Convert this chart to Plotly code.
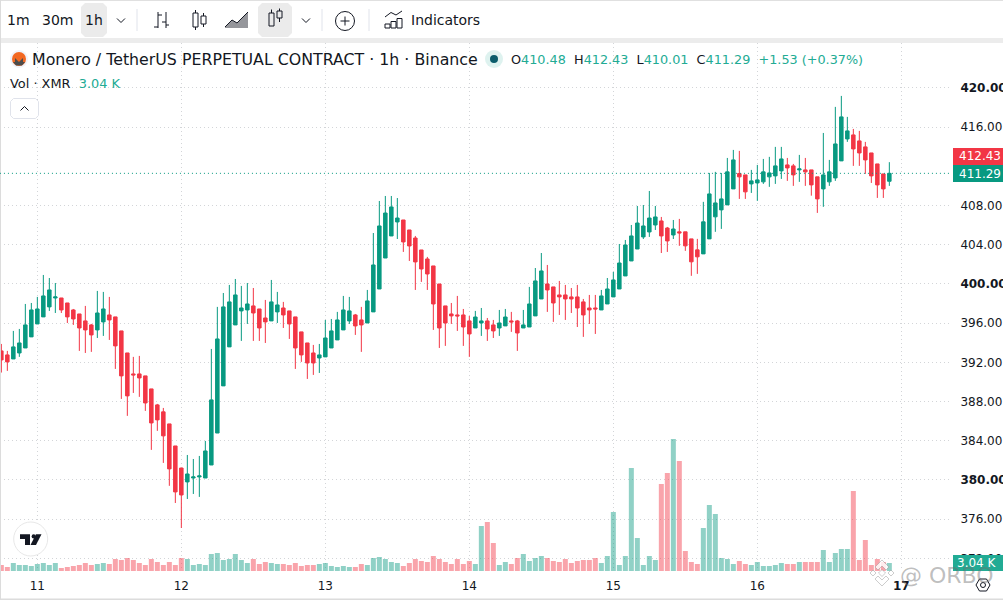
import pandas as pd
import plotly.graph_objects as go

# hourly candles
times = pd.date_range("2025-11-10 18:00", periods=149, freq="h")

opens = [393.17, 392.76, 392.35, 392.96, 393.47, 394.60, 395.92, 396.64, 397.66, 398.57,
         398.57, 398.06, 397.35, 396.94, 396.23, 395.82, 395.31, 396.13, 396.84, 396.64,
         395.21, 392.96, 390.82, 390.82, 390.62, 389.29, 387.66, 386.95, 385.72, 383.47,
         381.22, 379.80, 380.20, 380.31, 380.20, 381.53, 384.79, 389.60, 393.58, 395.82,
         397.25, 397.35, 397.76, 397.45, 396.53, 396.23, 397.15, 397.55, 397.25, 396.64,
         395.11, 393.98, 392.96, 392.45, 392.56, 393.47, 394.29, 395.31, 396.23, 396.84,
         396.33, 396.02, 397.15, 399.49, 402.65, 404.90, 406.33, 406.53, 405.51, 404.69,
         403.47, 402.55, 401.84, 400.00, 397.76, 396.94, 396.84, 396.84, 396.23, 395.51,
         396.02, 396.23, 395.82, 395.51, 395.72, 396.23, 396.23, 395.51, 395.61, 396.74,
         398.47, 400.00, 399.70, 398.88, 398.88, 398.68, 398.68, 398.17, 397.55, 397.55,
         397.35, 397.96, 398.68, 399.49, 400.82, 402.35, 403.57, 404.80, 405.31, 406.02,
         406.43, 405.71, 405.00, 405.32, 405.32, 404.60, 403.48, 403.07, 404.60, 406.85,
         407.56, 408.07, 409.70, 411.27, 411.13, 410.21, 410.31, 410.42, 410.93, 411.03,
         411.54, 412.15, 412.05, 411.64, 411.64, 411.64, 410.93, 409.70, 410.42, 410.82,
         412.56, 414.80, 415.21, 414.60, 413.99, 413.37, 412.25, 411.23, 410.48]
highs = [393.88, 393.17, 395.21, 395.41, 397.96, 398.06, 398.68, 400.92, 400.61, 400.10,
         398.57, 398.06, 397.45, 396.94, 397.76, 395.92, 399.29, 399.19, 398.68, 396.64,
         395.21, 392.96, 392.56, 392.66, 390.62, 389.29, 387.76, 387.35, 385.72, 383.47,
         381.22, 382.55, 382.14, 382.45, 383.98, 393.37, 397.66, 399.08, 399.90, 400.51,
         399.80, 400.10, 399.59, 397.45, 398.37, 400.41, 399.19, 398.17, 397.25, 396.64,
         395.11, 393.98, 393.78, 393.88, 396.33, 396.43, 397.15, 398.78, 398.68, 396.94,
         397.66, 399.39, 405.20, 408.47, 408.98, 408.98, 408.77, 406.53, 405.51, 404.90,
         403.47, 402.76, 401.84, 400.00, 397.76, 398.06, 398.78, 397.45, 396.74, 397.25,
         397.55, 396.53, 396.33, 397.35, 397.45, 397.15, 396.33, 397.35, 399.70, 401.63,
         403.16, 401.94, 399.70, 400.31, 399.90, 399.59, 399.90, 398.47, 398.88, 398.88,
         399.39, 400.61, 401.23, 404.08, 404.49, 406.02, 407.96, 408.06, 409.49, 407.96,
         406.84, 405.82, 406.53, 406.64, 405.32, 404.60, 404.60, 408.38, 411.33, 411.44,
         411.33, 412.86, 413.68, 413.58, 411.13, 411.64, 412.15, 412.76, 412.97, 413.99,
         413.99, 412.86, 412.25, 413.17, 412.86, 411.64, 410.93, 415.41, 412.66, 418.07,
         419.19, 417.05, 415.82, 415.62, 414.50, 413.37, 412.25, 411.23, 412.43]
lows = [390.96, 391.13, 392.35, 392.56, 393.47, 394.60, 395.92, 396.64, 397.25, 397.04,
        397.04, 396.02, 395.82, 393.17, 392.96, 393.07, 394.49, 394.70, 394.29, 391.33,
        388.27, 386.54, 388.88, 388.48, 387.05, 383.07, 385.01, 381.74, 379.40, 377.65,
        375.10, 378.06, 378.57, 378.27, 380.20, 381.53, 384.79, 389.60, 393.58, 395.82,
        394.19, 395.92, 394.19, 394.19, 393.98, 396.23, 396.02, 395.51, 394.39, 391.33,
        392.05, 390.31, 390.72, 390.92, 392.56, 393.47, 394.29, 395.31, 395.92, 394.80,
        393.07, 396.02, 397.15, 399.49, 402.65, 404.90, 404.59, 403.27, 402.35, 399.39,
        400.21, 399.39, 395.31, 393.47, 393.68, 395.92, 395.21, 393.68, 392.56, 395.51,
        394.70, 394.19, 394.49, 394.70, 395.72, 395.11, 393.17, 395.51, 395.61, 396.74,
        398.47, 397.15, 396.13, 396.84, 396.33, 397.04, 395.61, 394.60, 395.92, 394.90,
        397.35, 397.96, 398.68, 399.49, 400.82, 402.35, 403.57, 404.59, 404.80, 405.51,
        403.16, 403.27, 404.59, 403.89, 403.38, 400.83, 401.03, 403.07, 404.60, 405.32,
        405.62, 408.07, 409.70, 408.68, 408.68, 409.29, 408.48, 410.21, 409.91, 410.21,
        410.72, 410.52, 410.01, 410.42, 410.01, 409.01, 407.25, 407.87, 410.01, 410.52,
        412.56, 414.50, 412.05, 412.05, 411.23, 410.31, 408.78, 408.78, 410.01]
closes = [392.25, 392.05, 393.58, 393.98, 395.82, 397.35, 397.45, 398.78, 399.39, 398.68,
          397.35, 396.64, 396.43, 395.51, 395.31, 394.80, 397.04, 397.45, 396.33, 393.68,
          390.62, 388.58, 390.72, 390.41, 387.86, 385.82, 386.13, 384.50, 381.13, 378.78,
          378.47, 380.61, 380.31, 380.41, 382.96, 388.17, 394.39, 397.66, 398.17, 398.88,
          397.55, 397.96, 397.04, 395.51, 396.13, 398.17, 397.86, 396.84, 395.92, 393.47,
          392.76, 391.94, 391.94, 392.76, 394.49, 395.21, 396.33, 397.35, 397.25, 395.72,
          395.82, 398.27, 401.94, 405.92, 407.24, 407.86, 406.73, 404.29, 403.88, 402.25,
          401.53, 401.02, 397.96, 395.51, 396.02, 396.74, 396.74, 395.61, 394.90, 396.63,
          396.23, 395.41, 395.21, 396.02, 396.63, 396.13, 395.00, 395.82, 397.96, 400.31,
          401.33, 399.39, 398.06, 398.68, 398.47, 398.47, 397.55, 396.84, 397.35, 397.45,
          398.78, 399.49, 400.41, 402.14, 403.98, 404.90, 406.22, 405.92, 406.73, 406.84,
          404.90, 404.39, 405.61, 405.21, 403.89, 402.26, 402.77, 406.34, 409.19, 408.27,
          408.68, 411.44, 412.66, 410.93, 409.40, 410.52, 410.62, 411.44, 411.33, 412.05,
          412.76, 411.84, 411.13, 411.74, 411.44, 410.11, 408.68, 411.13, 411.44, 414.29,
          417.05, 415.62, 413.78, 413.37, 412.66, 411.03, 410.11, 409.70, 411.29]
# volume in thousands of XMR
volumes = [2.28, 1.52, 3.04, 2.28, 2.28, 1.90, 2.66, 3.04, 2.28, 3.04,
           1.14, 1.52, 1.90, 2.28, 3.04, 2.28, 2.66, 3.04, 2.66, 4.56,
           4.18, 4.94, 4.18, 3.04, 2.28, 4.56, 3.42, 2.28, 3.42, 2.28,
           4.94, 4.56, 2.28, 2.66, 2.28, 6.46, 6.84, 4.18, 4.56, 6.46,
           4.18, 3.04, 4.56, 2.66, 3.42, 3.04, 2.66, 2.66, 2.28, 3.04,
           1.90, 2.28, 2.28, 2.66, 3.04, 1.90, 1.52, 1.90, 1.52, 1.52,
           2.66, 2.28, 4.94, 5.32, 4.56, 3.42, 3.04, 1.90, 3.04, 4.56,
           3.80, 3.42, 5.70, 4.56, 3.42, 2.66, 4.56, 2.66, 3.80, 2.66,
           17.10, 18.62, 10.64, 2.28, 3.42, 2.66, 4.94, 6.46, 3.80, 4.94,
           5.70, 4.94, 3.80, 3.42, 4.56, 3.04, 3.80, 4.18, 4.18, 4.94,
           3.04, 5.70, 22.42, 2.28, 5.70, 39.14, 12.54, 2.28, 5.70, 4.18,
           33.06, 37.24, 50.16, 41.80, 7.60, 3.42, 2.66, 16.34, 25.08, 21.66,
           4.94, 4.56, 2.66, 3.80, 2.66, 2.28, 3.42, 1.90, 1.90, 2.28,
           3.04, 2.66, 2.66, 3.42, 3.42, 3.42, 3.42, 7.98, 3.42, 6.84,
           8.36, 8.36, 30.40, 4.18, 11.78, 2.28, 4.56, 3.42, 3.04]

price_ticks = [372, 376, 380, 384, 388, 392, 396, 400, 404, 408, 416, 420]
bold_ticks = [380, 400, 420]
day_ticks = ["2025-11-11", "2025-11-12", "2025-11-13", "2025-11-14", "2025-11-15", "2025-11-16", "2025-11-17"]
day_labels = ["11", "12", "13", "14", "15", "16", "<b>17</b>"]

GREEN = "#089981"
RED = "#f23645"
TEAL = "#22ab94"
INK = "#131722"
GRID = "#d3d5d8"
W, H = 1003, 600


def px(x, y):
    return x / W, 1 - y / H


def line(x0, y0, x1, y1, color=INK, width=1):
    a, b = px(x0, y0)
    c, d = px(x1, y1)
    return dict(type="line", xref="paper", yref="paper", x0=a, y0=b, x1=c, y1=d,
                line=dict(color=color, width=width))


def rect(x0, y0, x1, y1, fill, border=None, width=1):
    a, b = px(x0, y0)
    c, d = px(x1, y1)
    return dict(type="rect", xref="paper", yref="paper", x0=a, y0=b, x1=c, y1=d, fillcolor=fill,
                line=dict(color=border or fill, width=width if border else 0))


def circle(cx, cy, r, fill="rgba(0,0,0,0)", border=None, width=1):
    a, b = px(cx - r, cy - r)
    c, d = px(cx + r, cy + r)
    return dict(type="circle", xref="paper", yref="paper", x0=a, y0=b, x1=c, y1=d, fillcolor=fill,
                line=dict(color=border or fill, width=width if border else 0))


def poly(points, fill="rgba(0,0,0,0)", border=None, width=1, close=True):
    parts = []
    for i, (x, y) in enumerate(points):
        a, b = px(x, y)
        parts.append(f"{'M' if i == 0 else 'L'}{a:.5f},{b:.5f}")
    return dict(type="path", xref="paper", yref="paper", path=" ".join(parts) + (" Z" if close else ""),
                fillcolor=fill, line=dict(color=border or "rgba(0,0,0,0)", width=width if border else 0))


def rounded(x0, y0, x1, y1, r, fill, border=None):
    pts = [(x0 + r, y0), (x1 - r, y0), (x1, y0 + r), (x1, y1 - r), (x1 - r, y1), (x0 + r, y1), (x0, y1 - r), (x0, y0 + r)]
    return poly(pts, fill, border)


def label(x, y, text, size=14, color=INK, anchor="left", family="DejaVu Sans"):
    a, b = px(x, y)
    return dict(xref="paper", yref="paper", x=a, y=b, text=text, showarrow=False, xanchor=anchor,
                yanchor="middle", font=dict(family=family, size=size, color=color), borderpad=0, borderwidth=0)


def candle_icon(x0, x1, y0, y1, wick_top, wick_bottom):
    mid = (x0 + x1) / 2
    return [rect(x0, y0, x1, y1, "rgba(0,0,0,0)", INK), line(mid, wick_top, mid, y0), line(mid, y1, mid, wick_bottom)]


def chevron(cx, cy, up=False):
    d = -2 if up else 2
    return poly([(cx - 4, cy - d), (cx, cy + d), (cx + 4, cy - d)], border=INK, close=False)


vol_colors = ["rgba(8,153,129,0.45)" if c >= o else "rgba(242,54,69,0.45)" for o, c in zip(opens, closes)]

fig = go.Figure()
fig.add_trace(go.Bar(x=times, y=volumes, yaxis="y", width=3000000, marker=dict(color=vol_colors, line_width=0),
                     hoverinfo="skip"))
fig.add_trace(go.Candlestick(x=times, open=opens, high=highs, low=lows, close=closes, yaxis="y2", whiskerwidth=0,
                             increasing=dict(line=dict(color=GREEN, width=1), fillcolor=GREEN),
                             decreasing=dict(line=dict(color=RED, width=1), fillcolor=RED),
                             hoverinfo="skip"))

shapes = [
    # frame and toolbar
    rect(0, 38, W, 43, "#ececec"),
    rect(0, 0, W, 1, "#e0e0e0"),
    rect(0, 0, 1, H, "#dcdcdc"),
    rect(0, 598.5, W, H, "#dcdcdc"),
    rounded(81, 3, 107, 37, 4, "#ebebeb"),
    rounded(258, 3, 292, 37, 4, "#ebebeb"),
    line(137, 9, 137, 31, "#e0e3eb"),
    line(322, 9, 322, 31, "#e0e3eb"),
    line(369, 9, 369, 31, "#e0e3eb"),
    chevron(121, 20.5),
    chevron(306, 20.5),
    # bars icon
    line(158, 12, 158, 28), line(154, 27, 158, 27), line(158, 15, 162, 15),
    line(166, 12, 166, 28), line(162, 22, 166, 22), line(166, 25, 169, 25),
    # area icon
    poly([(225, 27), (232, 20), (237, 23), (248, 12), (248, 28), (225, 28)], "rgba(19,23,34,0.45)"),
    poly([(225, 27), (232, 20), (237, 23), (248, 12)], border=INK, close=False),
    # plus
    circle(345, 21, 9.5, border=INK),
    line(340.5, 21, 349.5, 21), line(345, 16.5, 345, 25.5),
    # indicators icon
    rect(385, 24, 390, 28, "rgba(0,0,0,0)", INK), rect(391, 21.5, 396, 28, "rgba(0,0,0,0)", INK),
    rect(397, 18.5, 402, 28, "rgba(0,0,0,0)", INK),
    poly([(385, 17), (391, 12.5), (396, 15), (402, 11)], border=INK, close=False),
    # monero logo
    circle(19, 59, 9, "#f0f3fa"),
    circle(19, 59, 7, "#f26822"),
    poly([(13, 62), (15, 62), (15, 58), (19, 62), (23, 58), (23, 62), (25, 62), (22, 65.5), (16, 65.5)], "#4c4c4c"),
    # status dot
    circle(494, 59, 9, "rgba(34,171,148,0.15)"),
    circle(494, 59, 4, "#0b5c6b"),
    # collapse button
    rounded(10.5, 98.5, 38.5, 118.5, 3, "#ffffff", "#e0e3eb"),
    chevron(24.5, 108.5, up=True),
    # tradingview badge
    circle(30.7, 539, 17, "#ffffff", "#e8e8e8"),
    poly([(20, 534.3), (30, 534.3), (30, 545), (25, 545), (25, 539), (20, 539)], "#131722"),
    circle(33.7, 536.4, 2.1, "#131722"),
    poly([(36, 534.3), (41.5, 534.3), (36, 545), (30.5, 545)], "#131722"),
    # price and volume tags
    rect(953, 148, W, 165, RED),
    rect(953, 165, W, 182, GREEN),
    rect(953, 555, W, 571, TEAL),
    # settings hexagon
    poly([(976, 585), (979.5, 579), (986.5, 579), (990, 585), (986.5, 591), (979.5, 591)], border=INK),
    circle(983, 585, 2.5, border=INK),
    # watermark logo
    poly([(882, 560), (889, 567), (886, 570), (882, 566), (878, 570), (875, 567)], "rgba(255,255,255,0.8)", "rgba(130,130,130,0.4)"),
    poly([(882, 586), (889, 579), (886, 576), (882, 580), (878, 576), (875, 579)], "rgba(255,255,255,0.8)", "rgba(130,130,130,0.4)"),
    poly([(873, 570), (876, 573), (873, 576), (870, 573)], "rgba(255,255,255,0.8)", "rgba(130,130,130,0.4)"),
    poly([(891, 570), (894, 573), (891, 576), (888, 573)], "rgba(255,255,255,0.8)", "rgba(130,130,130,0.4)"),
    poly([(882, 569.5), (885.5, 573), (882, 576.5), (878.5, 573)], "rgba(255,255,255,0.8)", "rgba(130,130,130,0.4)"),
]
shapes += candle_icon(193, 198, 13, 27, 10, 30)
shapes += candle_icon(201, 206, 16, 24, 13, 27)
shapes += candle_icon(269, 274, 13, 26, 9.5, 26)
shapes += candle_icon(277, 282, 11, 18, 8.5, 22)
# last price line
shapes.append(dict(type="line", xref="x", yref="y2", x0="2025-11-10 17:46", x1="2025-11-17 08:06", y0=closes[-1], y1=closes[-1],
                   line=dict(color=GREEN, width=1, dash="1px,3px")))

legend_vals = (f'O<span style="color:{TEAL}">410.48</span>  H<span style="color:{TEAL}">412.43</span>  '
               f'L<span style="color:{TEAL}">410.01</span>  C<span style="color:{TEAL}">411.29</span>  '
               f'<span style="color:{TEAL}">+1.53 (+0.37%)</span>')

annotations = [
    label(7, 20, "1m", 14),
    label(42, 20, "30m", 14),
    label(85, 20, "1h", 14),
    label(411, 20, "Indicators", 14),
    label(32, 59, "Monero / TetherUS PERPETUAL CONTRACT · 1h · Binance", 15.8),
    label(511, 59.5, legend_vals, 12.8),
    label(10, 83.5, f'Vol · XMR  <span style="color:{TEAL}">3.04 K</span>', 12.9),
    label(1001, 156.5, "412.43", 12, "#ffffff", "right"),
    label(1001, 173.5, "411.29", 12, "#ffffff", "right"),
    label(997, 563, "3.04 K", 12, "#ffffff", "right"),
    label(900, 575, "@ ORBO", 22, "rgba(110,110,110,0.45)"),
]

fig.update_layout(
    width=W, height=H, margin=dict(l=0, r=0, t=0, b=0, autoexpand=False), paper_bgcolor="#ffffff", plot_bgcolor="#ffffff",
    showlegend=False, boxgap=0.17, barmode="overlay", font=dict(family="DejaVu Sans", size=12, color=INK),
    shapes=shapes, annotations=annotations,
    xaxis=dict(type="date", domain=[0, 950 / W], range=["2025-11-10 17:46:40", "2025-11-17 08:06:36"], automargin=False,
               rangeslider=dict(visible=False), tickmode="array", tickvals=day_ticks, ticktext=day_labels,
               showgrid=True, gridcolor=GRID, griddash="1px,3px", gridwidth=1, zeroline=False, showline=False,
               ticks="outside", ticklen=4, tickcolor="#ffffff", tickfont=dict(size=12, color=INK)),
    yaxis=dict(domain=[29 / H, 557 / H], range=[0, 200.6], visible=False, fixedrange=True, automargin=False),
    yaxis2=dict(domain=[29 / H, 557 / H], range=[370.71, 424.59], overlaying="y", side="right", anchor="x", automargin=False,
                tickmode="array", tickvals=price_ticks,
                ticktext=[f"<b>{p}.00</b>" if p in bold_ticks else f"{p}.00" for p in price_ticks],
                showgrid=True, gridcolor=GRID, griddash="1px,3px", gridwidth=1, zeroline=False, showline=False,
                ticks="outside", ticklen=7, tickcolor="#ffffff", tickfont=dict(size=12, color=INK)),
)

fig.write_html("out.html", config=dict(displayModeBar=False),
               post_script="document.body.style.margin='0';document.body.style.overflow='hidden';")
